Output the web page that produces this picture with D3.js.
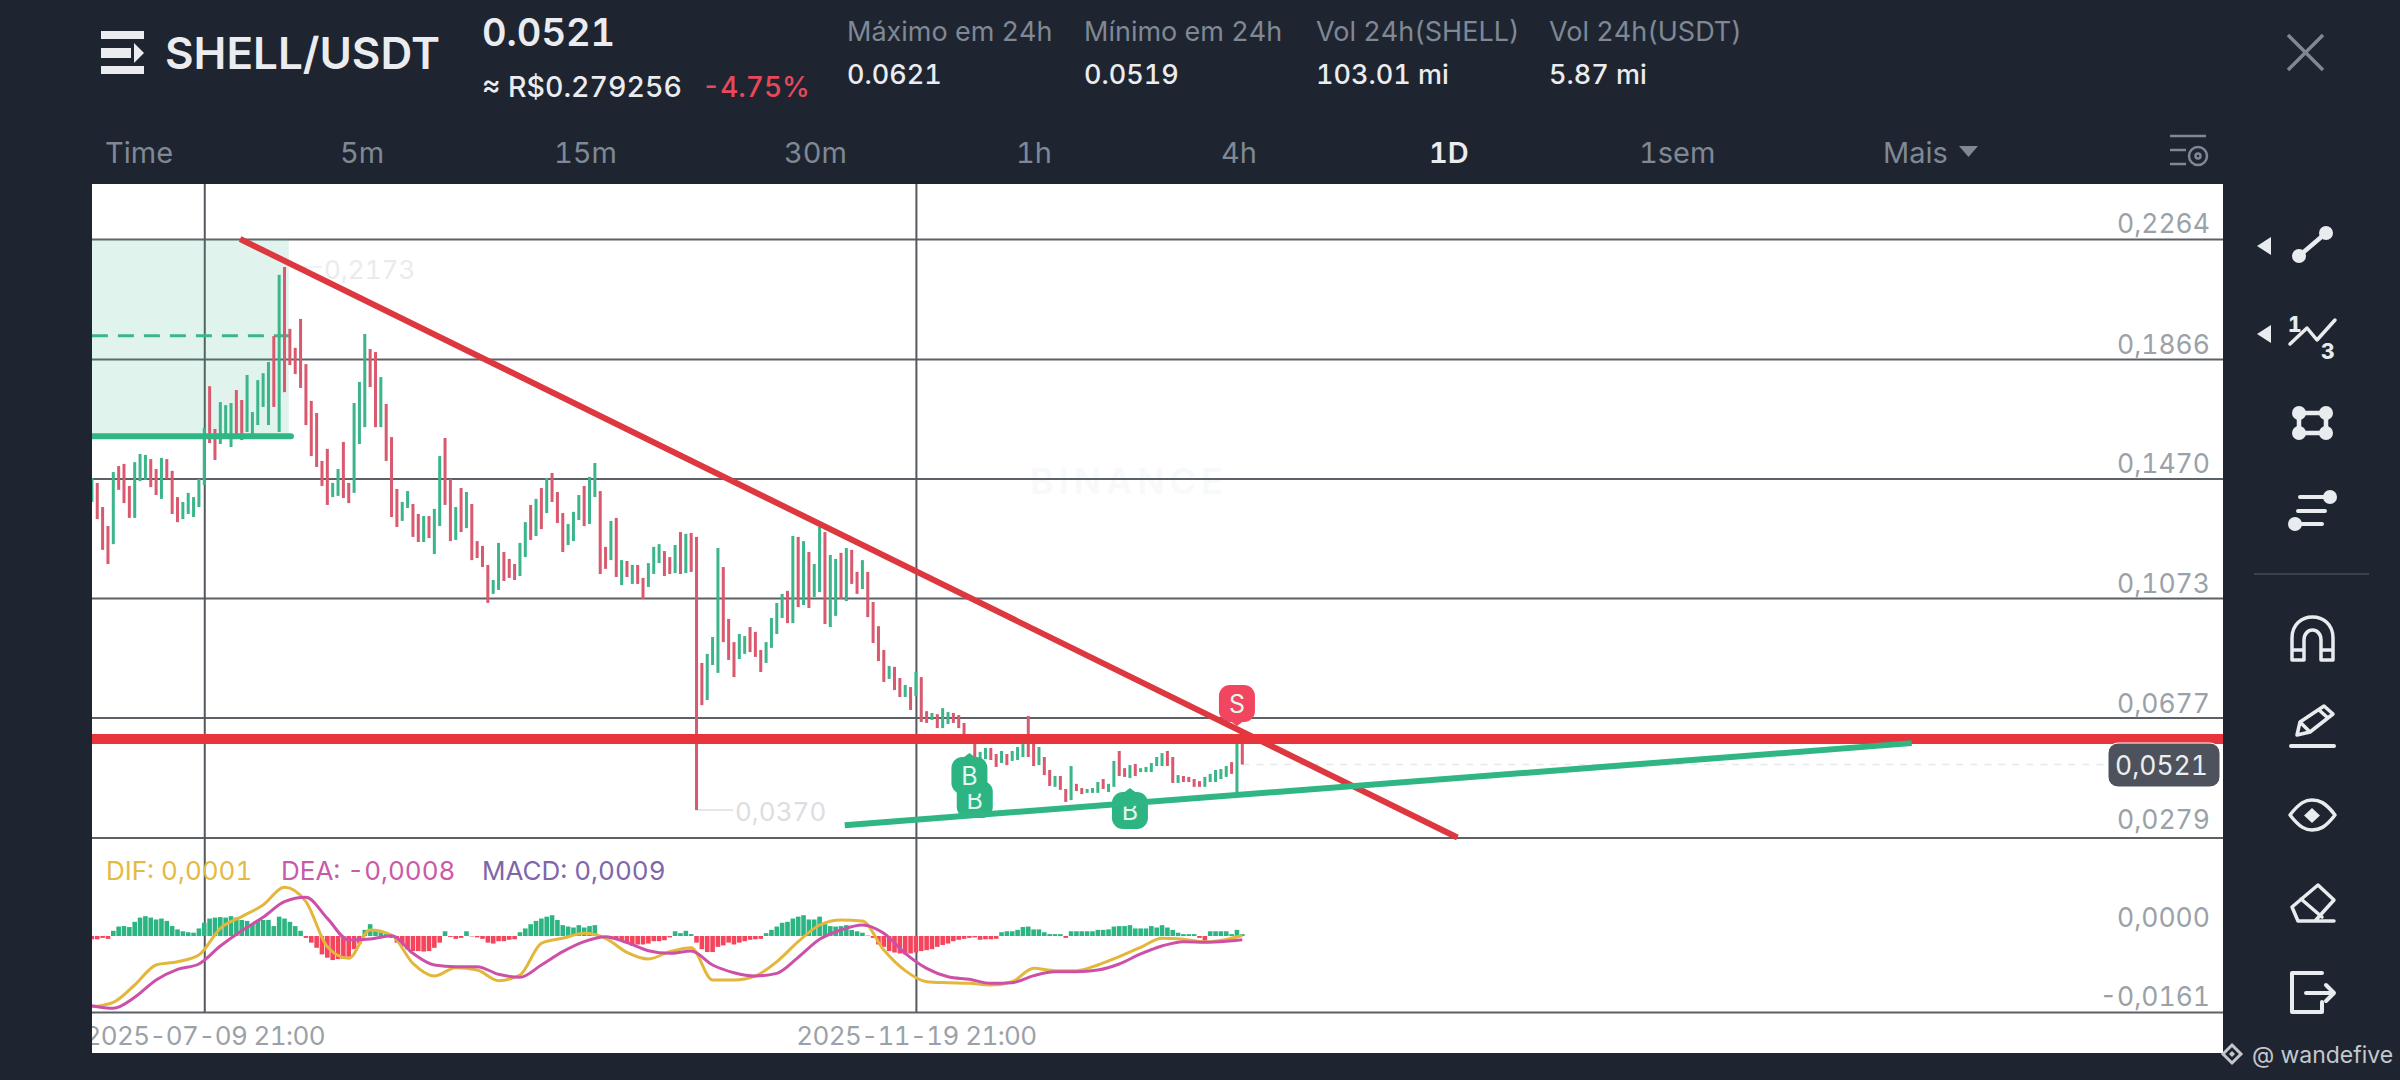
<!DOCTYPE html>
<html>
<head>
<meta charset="utf-8">
<script src="https://cdn.jsdelivr.net/npm/d3@7"></script>
<style>
  html, body { margin: 0; background: #1e2530; }
  svg { display: block; }
  text { font-family: Inter, "Noto Sans", sans-serif; font-variant-numeric: tabular-nums; }
</style>
</head>
<body>
<svg width="2400" height="1080"></svg>
<script>
// daily candles, top and bottom of each bar
const candleHigh = [
  .1471,.1455,.1375,.1312,.1491,.1511,.1518,.1445,.1524,.1551,
  .1548,.1534,.1501,.1538,.1534,.1495,.1408,.1392,.1422,.1408,
  .1468,.1637,.1776,.1634,.1723,.1713,.1720,.1763,.1730,.1813,
  .1690,.1796,.1819,.1856,.1942,.2145,.2171,.1966,.1903,.1999,
  .1849,.1727,.1687,.1528,.1568,.1455,.1501,.1591,.1455,.1720,
  .1790,.1949,.1899,.1889,.1806,.1717,.1607,.1435,.1392,.1428,
  .1385,.1352,.1345,.1345,.1369,.1544,.1604,.1468,.1375,.1438,
  .1425,.1385,.1262,.1246,.1183,.1133,.1256,.1226,.1203,.1186,
  .1256,.1325,.1382,.1402,.1438,.1471,.1488,.1425,.1355,.1319,
  .1359,.1415,.1445,.1475,.1521,.1428,.1243,.1329,.1339,.1199,
  .1196,.1183,.1183,.1140,.1189,.1243,.1252,.1229,.1209,.1249,
  .1292,.1286,.1289,.1276,.0858,.0888,.0944,.1239,.1176,.1004,
  .0927,.0954,.0947,.0977,.0961,.0901,.0927,.1007,.1057,.1087,
  .1097,.1279,.1276,.1262,.1226,.1186,.1309,.1292,.1216,.1203,
  .1223,.1239,.1233,.1160,.1199,.1160,.1060,.0980,.0901,.0848,
  .0845,.0808,.0785,.0778,.0828,.0811,.0698,.0692,.0688,.0708,
  .0695,.0692,.0685,.0659,.0622,.0589,.0563,.0576,.0576,.0556,
  .0566,.0556,.0566,.0579,.0589,.0682,.0592,.0579,.0546,.0503,
  .0483,.0483,.0440,.0516,.0457,.0443,.0440,.0443,.0463,.0473,
  .0457,.0533,.0566,.0509,.0519,.0523,.0509,.0513,.0526,.0546,
  .0559,.0566,.0546,.0486,.0483,.0480,.0473,.0466,.0480,.0490,
  .0503,.0506,.0516,.0529,.0609,.0592
];
const candleLow = [
  .1392,.1335,.1233,.1186,.1252,.1432,.1388,.1339,.1339,.1461,
  .1465,.1441,.1415,.1402,.1468,.1352,.1325,.1335,.1352,.1342,
  .1375,.1448,.1587,.1531,.1584,.1604,.1574,.1614,.1597,.1624,
  .1614,.1647,.1707,.1647,.1707,.1624,.1756,.1846,.1816,.1770,
  .1647,.1544,.1508,.1445,.1382,.1408,.1412,.1405,.1388,.1422,
  .1584,.1640,.1773,.1640,.1640,.1528,.1342,.1309,.1329,.1372,
  .1276,.1259,.1259,.1272,.1219,.1312,.1382,.1262,.1266,.1292,
  .1305,.1199,.1206,.1176,.1057,.1087,.1100,.1130,.1140,.1133,
  .1146,.1209,.1266,.1279,.1302,.1355,.1392,.1322,.1226,.1249,
  .1262,.1332,.1312,.1319,.1408,.1153,.1170,.1199,.1143,.1116,
  .1143,.1120,.1120,.1070,.1110,.1153,.1189,.1146,.1153,.1156,
  .1153,.1156,.1160,.0370,.0718,.0735,.0851,.0825,.0927,.0868,
  .0811,.0871,.0888,.0894,.0878,.0828,.0858,.0908,.0954,.1007,
  .0990,.0990,.1043,.1050,.1040,.1077,.1093,.0987,.0977,.1014,
  .1070,.1063,.1120,.1087,.1103,.1010,.0924,.0864,.0795,.0805,
  .0768,.0745,.0745,.0702,.0748,.0662,.0659,.0669,.0642,.0642,
  .0655,.0659,.0642,.0619,.0602,.0536,.0536,.0539,.0536,.0513,
  .0526,.0519,.0533,.0536,.0546,.0546,.0516,.0519,.0486,.0450,
  .0447,.0437,.0397,.0403,.0433,.0423,.0427,.0427,.0427,.0440,
  .0430,.0447,.0483,.0480,.0476,.0483,.0496,.0496,.0496,.0516,
  .0516,.0516,.0460,.0460,.0463,.0463,.0447,.0447,.0447,.0463,
  .0463,.0473,.0480,.0490,.0416,.0521
];
const candleSide = (
  "GRRRGRRRGG" + "GRRGRRRGGG" + "GGRRGGGRRG" + "GGGGRGRRRR" + "RRRRRGGRRG" +
  "GGRRGRRRGG" + "RRGRGGRRGR" + "GRRRRGGRRR" + "GGRGRGRRRG" + "GGRGGRRGRG" +
  "RGRRGGGRRG" + "RGRRRGGGRR" + "RGGRRRGGGG" + "RGRGRGGRGG" + "RGRRGRRRRG" +
  "RRGRGRRGRG" + "GRRRRRGGRR" + "GRGGGRRGRR" + "GRRGRRGGGR" + "GGRRGRGGGG" +
  "GRRGRRRRGG" + "GGGRGR"
).split("");

// macd histogram, one per candle, in units of 0.0001
const macdHist = [
  -7,-7,-4,-6,11,20,21,19,30,39,
  42,39,35,37,32,21,14,10,8,7,
  16,28,37,39,40,39,42,39,34,32,
  25,32,34,34,21,41,37,30,21,11,
  -4,-14,-25,-39,-46,-51,-49,-48,-44,-28,
  -16,13,25,14,8,4,-4,-14,-21,-28,
  -32,-32,-33,-32,-25,-14,10,-2,-6,-4,
  10,-1,-3,-6,-14,-16,-11,-11,-8,-7,
  8,16,25,32,37,41,44,34,23,20,
  18,23,18,21,23,-2,-6,-7,-7,-10,
  -13,-21,-18,-18,-16,-11,-11,-9,-3,10,
  6,11,4,-14,-28,-34,-34,-23,-20,-14,
  -18,-14,-11,-8,-7,-6,6,13,20,28,
  30,37,41,44,35,35,41,25,21,20,
  21,23,13,10,7,1,-4,-18,-23,-32,
  -35,-37,-39,-37,-35,-32,-30,-28,-23,-19,
  -16,-11,-8,-6,-4,-3,-8,-7,-7,-6,
  8,10,10,13,19,20,14,14,8,4,
  4,4,-4,10,10,10,10,10,13,13,
  14,20,21,21,23,16,16,16,21,18,
  23,18,13,7,4,4,4,-4,-10,10,
  10,10,10,4,13,4
];

const lineDays = [0,4,8,12,16,20,24,28,32,36,40,44,48,52,56,60,64,68,72,76,80,84,88,92,96,100,104,108,112,116,120,124,128,132,136,140,144,148,152,156,160,164,168,172,176,180,184,188,192,196,200,204,208,212,215];
const difValues = [
  -.01497,-.01405,-.01038,-.00614,-.00544,-.00403,.00162,.00410,.00657,.01031,
  .00727,-.00226,-.00473,.00127,.00021,-.00579,-.00847,-.00671,-.00720,-.00946,
  -.00826,-.00155,-.00049,.00056,-.00049,-.00346,-.00487,-.00332,-.00247,-.00932,
  -.00932,-.00847,-.00544,-.00120,.00233,.00339,.00318,-.00297,-.00734,-.00968,
  -.00989,-.01003,-.01038,-.00968,-.00685,-.00734,-.00734,-.00614,-.00438,-.00240,
  -.00049,-.00071,-.00120,-.00071,.0001
];
const deaValues = [
  -.01476,-.01532,-.01299,-.00932,-.00706,-.00593,-.00212,.00113,.00395,.00727,
  .00819,.00374,-.00085,-.00064,.00007,-.00367,-.00614,-.00650,-.00650,-.00812,
  -.00876,-.00614,-.00332,-.00120,-.00014,-.00141,-.00311,-.00367,-.00318,-.00614,
  -.00777,-.00847,-.00791,-.00452,-.00071,.00127,.00233,.00056,-.00367,-.00685,
  -.00862,-.00918,-.01003,-.00989,-.00840,-.00756,-.00756,-.00720,-.00593,-.00381,
  -.00212,-.00120,-.00134,-.00113,-.0008
];

const priceTicks = [.2264,.1866,.1470,.1073,.0677,.0279];
const priceLift = [7,6,6,6,5,9];
const macdTicks = [0,-.0161];
const dateTicks = [21,154];
const dateLabels = ["2025-07-09 21:00","2025-11-19 21:00"];

// drawn tools, as candle index and price
const lastPrice = .0521;
const resistance = .0606;
const downTrend = [[27.7,.2264],[255.2,.0279]];
const upTrend = [[140.7,.0320],[340.1,.0592]];
const zoneDays = [0,36.8];
const zonePrices = [.2264,.1610];
const zoneMid = .1943;
const zoneBase = [[0,.1610],[37.2,.1610]];
const buyDays = [165,164,194];
const buyPrices = [.0480,.0559,.0443];
const sellDays = [214];
const sellPrices = [.0649];

const upColor = "#3db58b", downColor = "#d9596e";
const panelLeft = 92, panelRight = 2223, panelTop = 184, panelBottom = 1053;

const svg = d3.select("svg");
const x = d3.scaleLinear().domain([0,215]).range([91.9,1242.3]);
const y = d3.scaleLinear().domain([.0279,.2264]).range([837.5,239]);
const yMacd = d3.scaleLinear().domain([-.0161,0]).range([1012,936]);
const comma = v => v.toFixed(4).replace(".",",");

svg.append("rect").attr("x",panelLeft).attr("y",panelTop).attr("width",panelRight-panelLeft).attr("height",panelBottom-panelTop).attr("fill","#fff");
svg.append("clipPath").attr("id","panel").append("rect").attr("x",panelLeft).attr("y",panelTop).attr("width",panelRight-panelLeft).attr("height",panelBottom-panelTop);
const chart = svg.append("g").attr("clip-path","url(#panel)");

// faint watermark
chart.append("text").attr("x",1030).attr("y",494).attr("font-size",36).attr("font-weight",600)
  .attr("letter-spacing",5).attr("fill","#f8f9fa").text("BINANCE");

// grid and axes
const priceAxis = chart.append("g").attr("transform",`translate(${panelRight},0)`)
  .call(d3.axisRight(y).tickValues(priceTicks).tickSize(-(panelRight-panelLeft)).tickFormat(comma));
const macdAxis = chart.append("g").attr("transform",`translate(${panelRight},0)`)
  .call(d3.axisRight(yMacd).tickValues(macdTicks).tickSize(-(panelRight-panelLeft)).tickFormat(comma));
macdAxis.selectAll(".tick").filter(d => d === 0).select("line").remove();
[priceAxis,macdAxis].forEach(a => {
  a.select(".domain").remove();
  a.selectAll("line").attr("stroke","#5c6168").attr("stroke-width",2);
  a.selectAll("text").attr("x",-13).attr("text-anchor","end").attr("dy",0)
    .attr("font-size",26.5).attr("fill","#9ba1a9").style("font-family","Inter");
});
priceAxis.selectAll("text").attr("y",(d,i) => -priceLift[i]);
macdAxis.selectAll("text").attr("y",d => d === 0 ? -10 : -7);

const dateAxis = chart.append("g").attr("transform","translate(0,1012)")
  .call(d3.axisBottom(x).tickValues(dateTicks).tickSize(-(1012-panelTop)).tickPadding(15)
    .tickFormat((d,i) => dateLabels[i]));
dateAxis.select(".domain").remove();
dateAxis.selectAll("line").attr("stroke","#55595f").attr("stroke-width",2);
dateAxis.selectAll("text").attr("font-size",26).attr("letter-spacing",-.6).attr("fill","#9ba1a9").style("font-family","Inter");

// entry zone
chart.append("rect").attr("x",x(zoneDays[0])).attr("y",y(zonePrices[0]))
  .attr("width",x(zoneDays[1])-x(zoneDays[0])).attr("height",y(zonePrices[1])-y(zonePrices[0]))
  .attr("fill","#2cb583").attr("fill-opacity",.15);
chart.append("line").attr("x1",x(zoneDays[0])).attr("x2",x(zoneDays[1])).attr("y1",y(zoneMid)).attr("y2",y(zoneMid))
  .attr("stroke",upColor).attr("stroke-width",3).attr("stroke-dasharray","16 10");

// current price dashes and min/max notes
chart.append("line").attr("x1",x(215)).attr("x2",2108).attr("y1",y(lastPrice)).attr("y2",y(lastPrice))
  .attr("stroke","#e6e8ea").attr("stroke-width",1.5).attr("stroke-dasharray","7 7");
chart.append("line").attr("x1",x(36)).attr("x2",322).attr("y1",y(.2171)).attr("y2",y(.2171)).attr("stroke","#eceef0").attr("stroke-width",1.5);
chart.append("text").attr("x",324).attr("y",y(.2171)+12).attr("font-size",26).attr("fill","#e9ebed").text("0,2173");
chart.append("line").attr("x1",x(113)).attr("x2",733).attr("y1",y(.0370)).attr("y2",y(.0370)).attr("stroke","#dcdee1").attr("stroke-width",1.5);
chart.append("text").attr("x",735).attr("y",y(.0370)+11).attr("font-size",26).attr("fill","#dcdee1").text("0,0370");

// candles
chart.append("g").selectAll("rect").data(candleHigh).join("rect")
  .attr("x",(d,i) => x(i)-1.5).attr("width",3)
  .attr("y",d => y(d)).attr("height",(d,i) => y(candleLow[i])-y(d))
  .attr("fill",(d,i) => candleSide[i] === "G" ? upColor : downColor);

// B and S flags, tip at the given price
function flag(day,price,label,color,below) {
  const cx = x(day), tip = y(price);
  const boxTop = below ? tip+4 : tip-41;
  const g = chart.append("g");
  g.append("rect").attr("x",cx-18).attr("y",boxTop).attr("width",36).attr("height",37).attr("rx",11).attr("fill",color);
  const yEdge = below ? tip+6 : tip-6;
  g.append("path").attr("d",`M${cx-8},${yEdge}L${cx},${tip}L${cx+8},${yEdge}Z`).attr("fill",color);
  g.append("text").attr("x",cx).attr("y",boxTop+28).attr("text-anchor","middle").attr("font-size",25).attr("fill","#e4f7ef").text(label);
}
buyDays.forEach((d,i) => flag(d,buyPrices[i],"B","#2cb583",true));
sellDays.forEach((d,i) => flag(d,sellPrices[i],"S","#f2455f",false));

// trend lines
const seg = d3.line().x(d => x(d[0])).y(d => y(d[1]));
chart.append("path").attr("d",seg(zoneBase)).attr("stroke","#2fb684").attr("stroke-width",6).attr("fill","none").attr("stroke-linecap","round");
chart.append("path").attr("d",seg(downTrend)).attr("stroke","#dd3840").attr("stroke-width",6).attr("fill","none");
chart.append("line").attr("x1",panelLeft).attr("x2",panelRight).attr("y1",y(resistance)).attr("y2",y(resistance)).attr("stroke","#e8353b").attr("stroke-width",10);
chart.append("path").attr("d",seg(upTrend)).attr("stroke","#2fb684").attr("stroke-width",6).attr("fill","none");

// macd pane
chart.append("g").selectAll("rect").data(macdHist).join("rect")
  .attr("x",(d,i) => x(i)-2.3).attr("width",4.6)
  .attr("y",d => Math.min(yMacd(d/1e4),yMacd(0))).attr("height",d => Math.abs(yMacd(d/1e4)-yMacd(0)))
  .attr("fill",d => d >= 0 ? "#2cb583" : "#f5455c");
const macdLine = d3.line().x((d,i) => x(lineDays[i])).y(d => yMacd(d)).curve(d3.curveMonotoneX);
chart.append("path").attr("d",macdLine(difValues)).attr("fill","none").attr("stroke","#e3b63c").attr("stroke-width",3);
chart.append("path").attr("d",macdLine(deaValues)).attr("fill","none").attr("stroke","#cd50a8").attr("stroke-width",3);

const txt = (parent,xp,yp,s,size,color,weight) => parent.append("text").attr("x",xp).attr("y",yp)
  .attr("font-size",size).attr("fill",color).attr("font-weight",weight || 400).text(s);

txt(chart,106,880,"DIF: 0,0001",26,"#e2bb44");
txt(chart,281,880,"DEA: -0,0008",26,"#c95aa8");
txt(chart,482,880,"MACD: 0,0009",26,"#7f66a9");

// last price tag
svg.append("rect").attr("x",2108).attr("y",743).attr("width",112).attr("height",44).attr("rx",10)
  .attr("fill","#4d525c").attr("stroke","#fff").attr("stroke-width",1);
svg.append("text").attr("x",2208).attr("y",y(lastPrice)+10).attr("text-anchor","end").attr("font-size",26.5).attr("fill","#eceef0").text(comma(lastPrice));

// header
const light = "#eaecef", grey = "#7f8894";
const head = svg.append("g");
[[31,43],[66,43]].forEach(b => head.append("rect").attr("x",101).attr("y",b[0]).attr("width",b[1]).attr("height",8).attr("fill",light));
head.append("rect").attr("x",101).attr("y",48).attr("width",30).attr("height",10).attr("fill",light);
head.append("path").attr("d","M134,43L144,53L134,63Z").attr("fill",light);
txt(head,165,69,"SHELL/USDT",44,light,600);
txt(head,482,46,"0.0521",38,light,600);
txt(head,482,97,"≈ R$0.279256",28.5,light,500);
txt(head,702,97,"-4.75%",28,"#e8485a",500);
const stats = [[847,"Máximo em 24h","0.0621"],[1084,"Mínimo em 24h","0.0519"],[1316,"Vol 24h(SHELL)","103.01 mi"],[1549,"Vol 24h(USDT)","5.87 mi"]];
stats.forEach(s => { txt(head,s[0],41,s[1],27,grey); txt(head,s[0],84,s[2],27,light,500); });
const tabs = [[105,"Time"],[340,"5m"],[554,"15m"],[784,"30m"],[1016,"1h"],[1221,"4h"],[1429,"1D"],[1639,"1sem"],[1883,"Mais"]];
tabs.forEach(t => txt(head,t[0],163,t[1],29,t[1] === "1D" ? light : grey,t[1] === "1D" ? 600 : 400));
head.append("path").attr("d","M1959,146L1978,146L1968.5,157Z").attr("fill",grey);
head.append("path").attr("d","M2288,35L2323,70M2323,35L2288,70").attr("stroke",grey).attr("stroke-width",3.5);
// chart settings glyph
const settings = head.append("g").attr("stroke",grey).attr("stroke-width",2.5).attr("fill","none");
settings.append("path").attr("d","M2170,136H2206M2170,150H2186M2170,164H2186");
settings.append("circle").attr("cx",2198).attr("cy",156).attr("r",9);
settings.append("circle").attr("cx",2198).attr("cy",156).attr("r",2.5);

// right tool bar
const ic = "#e9ecef";
const bar = svg.append("g");
const dot = (cx,cy,r) => bar.append("circle").attr("cx",cx).attr("cy",cy).attr("r",r).attr("fill",ic);
const stroke = (d,w) => bar.append("path").attr("d",d).attr("fill","none").attr("stroke",ic).attr("stroke-width",w || 3.5).attr("stroke-linejoin","round").attr("stroke-linecap","round");
bar.append("path").attr("d","M2257,246L2271,237L2271,255Z").attr("fill",ic);
bar.append("path").attr("d","M2257,334L2271,325L2271,343Z").attr("fill",ic);
dot(2326,233,7); dot(2299,256,7); stroke("M2299,256L2326,233",4.5);
stroke("M2290,344L2307,328L2317,340L2335,320",3.5);
bar.append("text").attr("x",2288).attr("y",332).attr("font-size",21).attr("font-weight",800).attr("fill",ic).text("1");
bar.append("text").attr("x",2321).attr("y",359).attr("font-size",21).attr("font-weight",800).attr("fill",ic).text("3");
stroke("M2299,413H2326V433H2299Z",4.5);
[[2299,413],[2326,413],[2299,433],[2326,433]].forEach(c => dot(c[0],c[1],7));
dot(2330,497,7); dot(2295,524,7);
stroke("M2300,497H2325M2298,511H2325M2295,524H2322",4);
bar.append("line").attr("x1",2254).attr("x2",2369).attr("y1",574).attr("y2",574).attr("stroke","#3b424e").attr("stroke-width",2);
stroke("M2292,660V638C2292,624 2302,617 2312.5,617C2323,617 2333,624 2333,638V660H2321V640C2321,634 2317,630 2312.5,630C2308,630 2304,634 2304,640V660ZM2292,650H2304M2321,650H2333",3.5);
stroke("M2291,746H2334",4);
stroke("M2297,735L2300,722L2324,706L2333,714L2310,732ZM2300,722L2309,731M2319,710L2328,718",3.5);
stroke("M2290,815C2300,802 2306,800 2312,800C2319,800 2325,802 2335,815C2325,828 2319,830 2312,830C2306,830 2300,828 2290,815Z",3.5);
bar.append("path").attr("d","M2312,808L2320,815.5L2312,823L2304,815.5Z").attr("fill",ic);
stroke("M2292,907L2318,885L2334,900L2315,921H2298ZM2301,899L2322,917M2298,921H2334",3.5);
stroke("M2322,973H2292V1012H2322M2322,1002V1012",4);
stroke("M2306,993H2334M2326,985L2334,993L2326,1001",4);

// footer mark
const mark = svg.append("g");
mark.append("path").attr("d","M2232,1045L2241,1054L2232,1063L2223,1054Z").attr("fill","none").attr("stroke","#c4c8ce").attr("stroke-width",3);
mark.append("path").attr("d","M2232,1051L2235,1054L2232,1057L2229,1054Z").attr("fill","#c4c8ce");
mark.append("text").attr("x",2252).attr("y",1063).attr("font-size",23).attr("fill","#c4c8ce").text("@ wandefive");
</script>
</body>
</html>
